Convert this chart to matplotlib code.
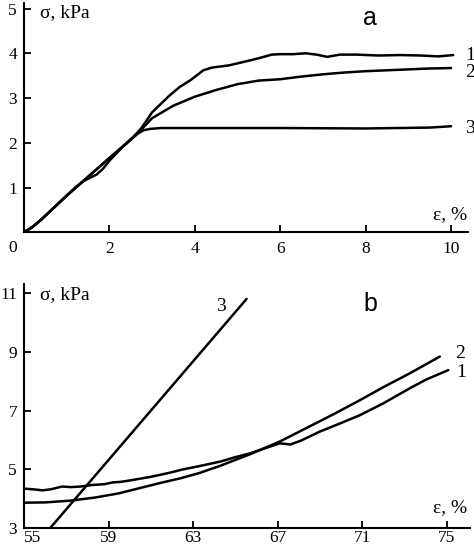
import matplotlib
matplotlib.use("Agg")
import matplotlib.pyplot as plt

# Panel a: small strains, 0-10 %
strain_a1 = [0, 0.2, 0.4, 0.7, 1.0, 1.2, 1.4, 1.7, 1.85, 2.0, 2.3, 2.6, 2.75, 3.0, 3.4,
             3.65, 3.9, 4.2, 4.4, 4.8, 5.2, 5.5, 5.8, 6.0, 6.3, 6.6, 6.85, 7.1, 7.4,
             7.8, 8.3, 8.8, 9.3, 9.7, 10.05]
stress_a1 = [0, 0.12, 0.28, 0.55, 0.82, 1.0, 1.15, 1.29, 1.42, 1.6, 1.9, 2.17, 2.33, 2.68, 3.05,
             3.25, 3.4, 3.62, 3.68, 3.73, 3.82, 3.89, 3.97, 3.98, 3.98, 4.0, 3.97, 3.92, 3.97,
             3.97, 3.95, 3.96, 3.95, 3.93, 3.96]

strain_a2 = [0, 0.2, 0.4, 0.7, 1.0, 1.5, 2.0, 2.5, 2.7, 3.0, 3.5, 4.0, 4.5, 5.0, 5.5,
             6.0, 6.5, 7.0, 7.5, 8.0, 8.5, 9.0, 9.5, 10.0]
stress_a2 = [0, 0.12, 0.28, 0.55, 0.82, 1.24, 1.66, 2.07, 2.25, 2.55, 2.83, 3.03, 3.18, 3.31, 3.39,
             3.42, 3.48, 3.53, 3.57, 3.6, 3.62, 3.64, 3.66, 3.67]

strain_a3 = [0, 0.2, 0.4, 0.7, 1.0, 1.5, 2.0, 2.5, 2.67, 2.8, 2.95, 3.2, 4.0, 6.0, 8.0, 9.5, 10.0]
stress_a3 = [0, 0.12, 0.28, 0.55, 0.82, 1.24, 1.66, 2.07, 2.21, 2.28, 2.31, 2.33, 2.33, 2.33, 2.32, 2.34, 2.37]

# Panel b: large strains, 55-75 %
strain_b1 = [55, 55.5, 55.9, 56.3, 56.8, 57.2, 57.7, 58.2, 58.8, 59.2, 59.6, 60.2, 61.0, 61.9,
             62.5, 63.2, 64.3, 65.0, 65.7, 66.4, 67.1, 67.6, 68.1, 69.0, 70.0, 70.9, 72.0,
             73.25, 74.0, 75.07]
stress_b1 = [4.35, 4.32, 4.29, 4.33, 4.42, 4.4, 4.42, 4.47, 4.5, 4.56, 4.58, 4.65, 4.75, 4.89,
             5.0, 5.1, 5.27, 5.42, 5.55, 5.72, 5.89, 5.85, 5.98, 6.29, 6.58, 6.85, 7.25,
             7.76, 8.05, 8.38]

strain_b2 = [55, 56.0, 57.2, 58.4, 59.5, 60.5, 61.5, 62.4, 63.3, 64.3, 65.7, 67.1, 68.5, 69.7,
             70.9, 72.0, 73.25, 74.67]
stress_b2 = [3.87, 3.88, 3.94, 4.05, 4.19, 4.37, 4.55, 4.7, 4.88, 5.13, 5.52, 5.95, 6.46, 6.9,
             7.36, 7.8, 8.27, 8.84]

strain_b3 = [56.23, 65.53]
stress_b3 = [3.0, 10.8]

xticks_a = [2, 4, 6, 8, 10]
yticks_a = [1, 2, 3, 4, 5]
xticks_b = [55, 59, 63, 67, 71, 75]
yticks_b = [3, 5, 7, 9, 11]

SERIF = "Liberation Serif"
SANS = "Liberation Sans"


def style_axes(ax, xpad, ypad):
    ax.spines["top"].set_visible(False)
    ax.spines["right"].set_visible(False)
    for side in ("left", "bottom"):
        ax.spines[side].set_linewidth(1.5)
    ax.tick_params(direction="in", length=5, width=1.3, labelsize=12.5)
    ax.tick_params(axis="x", pad=xpad)
    ax.tick_params(axis="y", pad=ypad)
    for lab in ax.get_xticklabels() + ax.get_yticklabels():
        lab.set_fontfamily(SERIF)


fig = plt.figure(figsize=(4.74, 5.5), dpi=100)

# ---- panel a ----
ax = fig.add_axes([0.0506, 0.5776, 0.937, 0.4175])
for xs, ys in [(strain_a1, stress_a1), (strain_a2, stress_a2), (strain_a3, stress_a3)]:
    ax.plot(xs, ys, color="black", linewidth=1.8, solid_capstyle="round")
ax.set_xlim(0, 10.4)
ax.set_ylim(0, 5.13)
ax.set_xticks(xticks_a)
ax.set_yticks(yticks_a)
style_axes(ax, xpad=6, ypad=5)
ax.text(-0.26, -0.36, "0", family=SERIF, fontsize=12.5, ha="center", va="center")
ax.text(0.37, 4.92, "σ, kPa", family=SERIF, fontsize=14, ha="left", va="center")
ax.text(10.37, 0.39, "ε, %", family=SERIF, fontsize=14, ha="right", va="center")
ax.text(8.1, 4.79, "a", family=SANS, fontsize=18, ha="center", va="center")
for label, y in [("1", 3.96), ("2", 3.58), ("3", 2.33)]:
    ax.text(10.33, y, label, family=SERIF, fontsize=14, ha="left", va="center")

# ---- panel b ----
ax = fig.add_axes([0.0506, 0.0395, 0.941, 0.4437])
for xs, ys in [(strain_b1, stress_b1), (strain_b2, stress_b2), (strain_b3, stress_b3)]:
    ax.plot(xs, ys, color="black", linewidth=1.8, solid_capstyle="round")
ax.set_xlim(55, 76.1)
ax.set_ylim(3, 11.3)
ax.set_xticks(xticks_b)
ax.set_yticks(yticks_b)
style_axes(ax, xpad=1, ypad=5)
# first x label sits just right of the corner, as in the original
ax.get_xticklabels()[0].set_horizontalalignment("left")
ax.text(55.76, 10.94, "σ, kPa", family=SERIF, fontsize=14, ha="left", va="center")
ax.text(75.95, 3.72, "ε, %", family=SERIF, fontsize=14, ha="right", va="center")
ax.text(71.4, 10.62, "b", family=SANS, fontsize=18, ha="center", va="center")
ax.text(64.34, 10.53, "3", family=SERIF, fontsize=14, ha="center", va="center")
ax.text(75.38, 8.96, "2", family=SERIF, fontsize=14, ha="left", va="center")
ax.text(75.43, 8.29, "1", family=SERIF, fontsize=14, ha="left", va="center")

fig.savefig("out.png", dpi=100)
